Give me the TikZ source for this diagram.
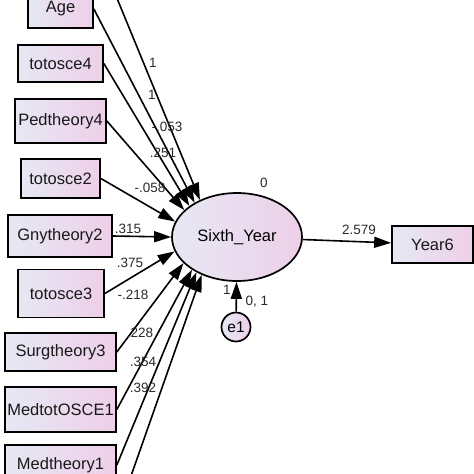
\documentclass[tikz,border=0pt]{standalone}
\usepackage{fontspec}
\setmainfont{Liberation Sans}
\usetikzlibrary{positioning}
\usetikzlibrary{shapes.geometric}
\usetikzlibrary{arrows.meta}
\definecolor{boxleft}{HTML}{E6E8F4}
\definecolor{boxright}{HTML}{EECFE8}
\definecolor{wgtgray}{HTML}{2A2A2A}
\tikzset{
  obs/.style={draw, line width=1.7pt, left color=boxleft, right color=boxright,
    inner sep=0pt, font=\fontsize{16.5}{19}\selectfont, text=black!90},
  latent/.style={draw, ellipse, line width=1.7pt, left color=boxleft, right color=boxright,
    inner sep=0pt, minimum width=130pt, minimum height=88pt, font=\fontsize{16.5}{19}\selectfont},
  err/.style={draw, circle, line width=1.7pt, left color=boxleft, right color=boxright,
    inner sep=0pt, minimum size=29pt, font=\fontsize{15.5}{18}\selectfont},
  regpath/.style={line width=1.6pt, -{Triangle[length=17pt,width=11pt]}},
  wgt/.style={font=\fontsize{13.5}{15}\selectfont, text=wgtgray, inner sep=0pt}
}

\begin{document}
\begin{tikzpicture}[x=1pt, y=-1pt]
    \useasboundingbox (0,0) rectangle (474,474);
    \clip (0,0) rectangle (474,474);

    % observed predictors
    \node[obs, minimum width=65pt, minimum height=38pt]  (age)      at (60.5,9)     {Age};
    \node[obs, minimum width=85pt, minimum height=37pt]  (tot4)     at (60.5,63.5)  {totosce4};
    \node[obs, minimum width=91pt, minimum height=44pt]  (ped4)     at (60.5,121)   {Pedtheory4};
    \node[obs, minimum width=79pt, minimum height=39pt]  (tot2)     at (60.5,178.5) {totosce2};
    \node[obs, minimum width=104pt, minimum height=42pt] (gny2)     at (60,236)     {Gnytheory2};
    \node[obs, minimum width=86pt, minimum height=48pt]  (tot3)     at (61,293.5)   {totosce3};
    \node[obs, minimum width=111pt, minimum height=38pt] (surg3)    at (60.5,352)   {Surgtheory3};
    \node[obs, minimum width=111pt, minimum height=45pt] (medosce1) at (60.5,409.5) {MedtotOSCE1};
    \node[obs, minimum width=111pt, minimum height=40pt] (med1)     at (60.5,465)   {Medtheory1};
    \coordinate (srctop) at (93,-60);
    \coordinate (srcbot) at (112,530);

    % latent, outcome and error
    \node[latent] (sixth) at (237,237) {Sixth\_Year};
    \node[obs, minimum width=81pt, minimum height=37pt] (year6) at (432.5,244.5) {Year6};
    \node[err] (e1) at (236,327) {e1};

    \foreach \src/\ang in {srctop/135.8, age.east/141.7, tot4.east/147.7, ped4.east/153.9,
        tot2.east/166.4, gny2.east/180, tot3.east/193.8, surg3.east/206.6,
        medosce1.east/216, med1.east/221.9, srcbot/227.4}
        \draw[regpath] (\src) -- (sixth.\ang);
    \draw[regpath] (sixth) -- (year6);
    \draw[regpath] (e1) -- (sixth);

    % weights
    \node[wgt] (w1)  at (153,63)  {1};
    \node[wgt] (w2)  at (152,95)  {1};
    \node[wgt] (w3)  at (167,127) {-.053};
    \node[wgt] (w4)  at (163,153) {.251};
    \node[wgt] (w5)  at (150,188) {-.058};
    \node[wgt] (w6)  at (128,229) {.315};
    \node[wgt] (w7)  at (130,263) {.375};
    \node[wgt] (w8)  at (133,295) {-.218};
    \node[wgt] (w9)  at (140,333) {.228};
    \node[wgt] (w10) at (143,362) {.354};
    \node[wgt] (w11) at (143,388) {.392};
    \node[wgt] (w0)  at (264,183) {0};
    \node[wgt] (wy)  at (359,230) {2.579};
    \node[wgt] (we)  at (227,290) {1};
    \node[wgt] (wv)  at (257,302) {0, 1};
\end{tikzpicture}
\end{document}
